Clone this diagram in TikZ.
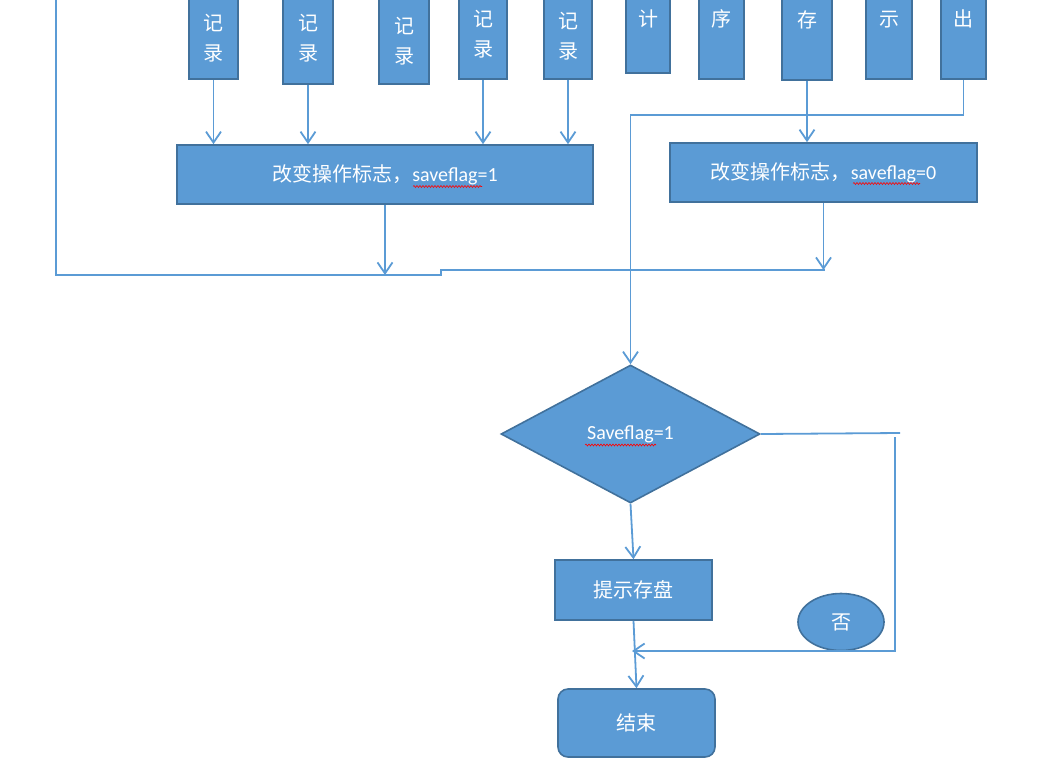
\documentclass[tikz,border=0pt]{standalone}
\usepackage{fontspec}
\setmainfont{Carlito}
\newfontfamily\cj{Noto Sans CJK SC}
\usepackage{tikz}
\usetikzlibrary{shapes.geometric,arrows.meta,decorations.pathmorphing}
\definecolor{boxfill}{HTML}{5B9BD5}
\definecolor{boxline}{HTML}{41719C}

\begin{document}
\begin{tikzpicture}[
  x = 1pt, y = -1pt,
  every node/.style = {draw = boxline, fill = boxfill, line width = 1.6pt,
                       text = white, font = \fontsize{20}{30}\selectfont},
  col/.style = {rectangle, anchor = south, align = center,
                font = \fontsize{20}{30}\selectfont\cj},
  box/.style = {rectangle, minimum height = 59pt},
  line/.style = {draw = boxfill, line width = 1.8pt},
  arr/.style = {line, -{Straight Barb[length = 11pt, width = 15pt]}},
  squig/.style = {draw = red, line width = 0.6pt,
                  decorate, decoration = {snake, amplitude = 1pt, segment length = 3pt}}
  ]
  \clip (0,0) rectangle (1054,761);
  % columns cut off at the top
  \node[col, minimum width = 49pt, minimum height = 82pt]  (c1)  at (213.5,80) {记\\录};
  \node[col, minimum width = 50pt, minimum height = 92pt]  (c2)  at (308,85)   {记\\录};
  \node[col, minimum width = 50pt, minimum height = 86pt]  (c3)  at (404,85)   {记\\录};
  \node[col, minimum width = 48pt, minimum height = 91pt]  (c4)  at (483,80)   {记\\录};
  \node[col, minimum width = 48pt, minimum height = 86pt]  (c5)  at (568,80)   {记\\录};
  \node[col, minimum width = 44pt, minimum height = 108pt] (c6)  at (648,74)   {计};
  \node[col, minimum width = 45pt, minimum height = 120pt] (c7)  at (721.5,80) {序};
  \node[col, minimum width = 50pt, minimum height = 120pt] (c8)  at (807,81)   {存};
  \node[col, minimum width = 46pt, minimum height = 120pt] (c9)  at (889,80)   {示};
  \node[col, minimum width = 45pt, minimum height = 120pt] (c10) at (963.5,80) {出};

  \node[box, minimum width = 416pt] (a) at (385,174.5)
    {{\cj 改变操作标志，}saveflag=1};
  \node[box, minimum width = 307pt] (b) at (823.5,172.5)
    {{\cj 改变操作标志，}saveflag=0};
  \node[diamond, aspect = 1.88, inner sep = 0pt,
        minimum width = 259pt, minimum height = 138pt] (dec) at (630.5,434)
    {Saveflag=1};
  \node[box, minimum width = 157pt, minimum height = 60pt] (save) at (633.5,590) {\cj 提示存盘};
  \node[box, rounded corners = 10pt, minimum width = 157pt, minimum height = 68pt]
    (stop) at (636.5,723) {\cj 结束};
  \node[ellipse, minimum width = 86pt, minimum height = 57pt] (no) at (841,622) {\cj 否};

  % spelling marks
  \draw[squig] (a.center) ++(28,12) -- ++(69,0);
  \draw[squig] (b.center) ++(29.5,11) -- ++(67,0);
  \draw[squig] (dec.center) ++(-45.5,11) -- ++(71,0);

  \coordinate (l0) at (56,-2);
  \coordinate (s1) at (441,275);
  \coordinate (s2) at (825,270);
  \coordinate (k1) at (630.5,115);
  \coordinate (n1) at (900,433);
  \coordinate (n2) at (895,437);
  \coordinate (n3) at (632,651);

  \draw[arr] (c1.south) -- (c1.south |- a.north);
  \draw[arr] (c2.south) -- (c2.south |- a.north);
  \draw[arr] (c4.south) -- (c4.south |- a.north);
  \draw[arr] (c5.south) -- (c5.south |- a.north);
  \draw[arr] (c8.south) -- (c8.south |- b.north);
  \draw[arr] (c10.south) |- (k1) -- (dec.north);

  \draw[line] (l0) |- (s1) |- (s2);
  \draw[arr] (a.south) -- (a.south |- s1);
  \draw[arr] (b.south) -- (b.south |- s2);

  \draw[line] (dec.east) -- (n1);
  \draw[arr] (n2) |- (n3);
  \draw[arr] (dec.south) -- (save.north);
  \draw[arr] (save.south) -- (stop.north);
\end{tikzpicture}
\end{document}
